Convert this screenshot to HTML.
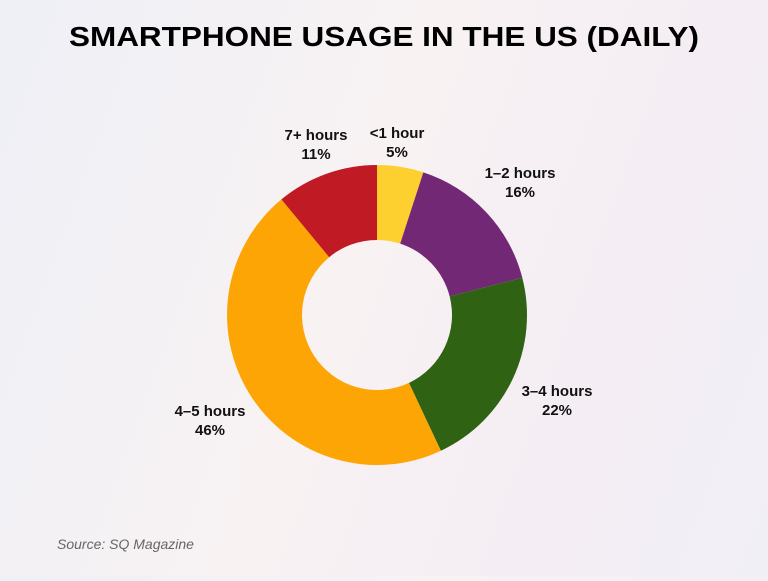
<!DOCTYPE html>
<html><head><meta charset="utf-8"><style>
html,body{margin:0;padding:0}
body{width:768px;height:576px;overflow:hidden;background:linear-gradient(110deg,#eef0f6 0%,#f8f2f3 45%,#f4eef4 75%,#f1eff6 100%)}
</style></head><body>
<svg width="768" height="576" viewBox="0 0 768 576" xmlns="http://www.w3.org/2000/svg" font-family="Liberation Sans, sans-serif">
<text x="384" y="46" text-anchor="middle" font-size="28" font-weight="bold" fill="#000" textLength="630" lengthAdjust="spacingAndGlyphs">SMARTPHONE USAGE IN THE US (DAILY)</text>
<path d="M377,165 A150,150 0 0 1 423.35,172.35 L400.18,243.67 A75,75 0 0 0 377,240 Z" fill="#fdd02f"/>
<path d="M423.35,172.35 A150,150 0 0 1 522.29,277.70 L449.65,296.35 A75,75 0 0 0 400.18,243.67 Z" fill="#722875"/>
<path d="M522.29,277.70 A150,150 0 0 1 440.87,450.72 L408.94,382.86 A75,75 0 0 0 449.65,296.35 Z" fill="#2f6212"/>
<path d="M440.87,450.72 A150,150 0 0 1 281.39,199.43 L329.20,257.21 A75,75 0 0 0 408.94,382.86 Z" fill="#fca504"/>
<path d="M281.39,199.43 A150,150 0 0 1 377,165 L377,240 A75,75 0 0 0 329.20,257.21 Z" fill="#c01a24"/>
<g font-size="15" font-weight="bold" fill="#111" text-anchor="middle">
<text x="316" y="140">7+ hours</text><text x="316" y="159">11%</text>
<text x="397" y="138">&lt;1 hour</text><text x="397" y="157">5%</text>
<text x="520" y="178">1–2 hours</text><text x="520" y="197">16%</text>
<text x="557" y="396">3–4 hours</text><text x="557" y="415">22%</text>
<text x="210" y="416">4–5 hours</text><text x="210" y="435">46%</text>
</g>
<text x="57" y="549" font-size="14" font-style="italic" fill="#666">Source: SQ Magazine</text>
</svg>
</body></html>
